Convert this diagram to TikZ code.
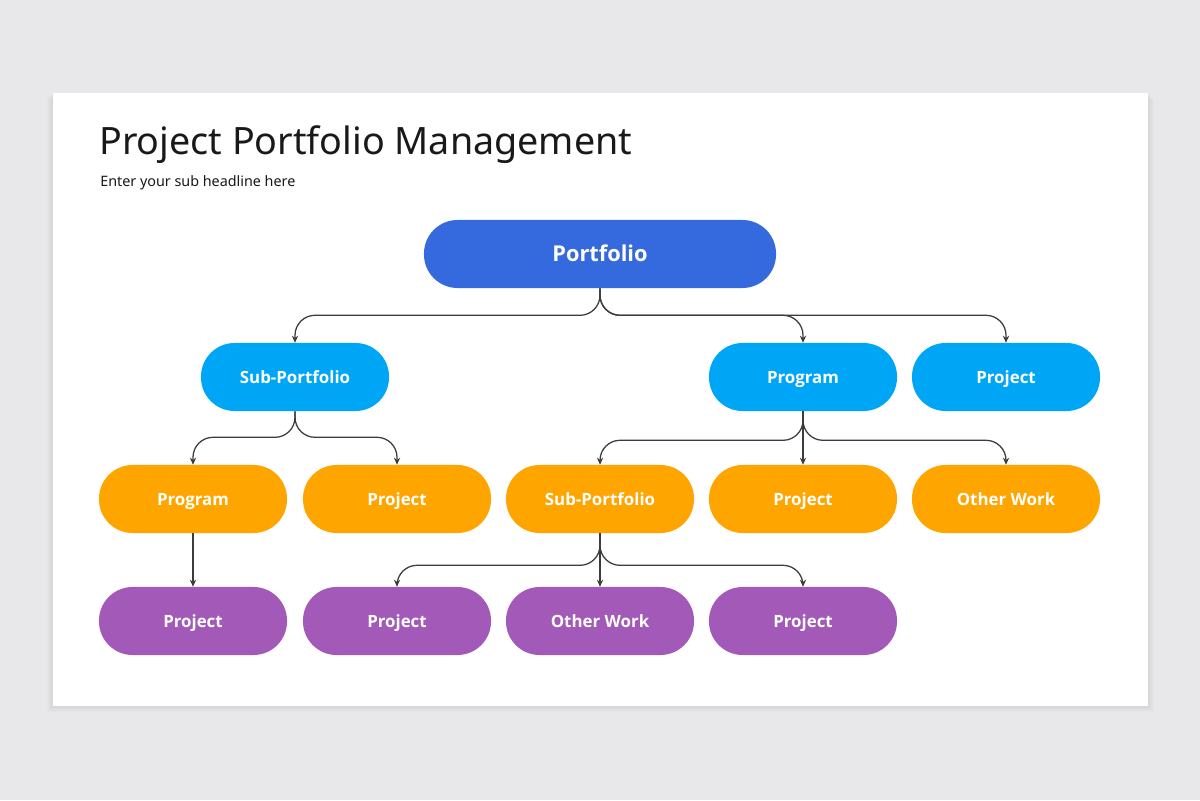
\documentclass[tikz,border=0pt]{standalone}
\usepackage{fontspec}
\setmainfont{Noto Sans}
\newfontfamily\pillfont{Open Sans}
\usepackage{tikz}
\usetikzlibrary{calc,arrows.meta}
\definecolor{pagegray}{RGB}{232,231,233}
\definecolor{topblue}{RGB}{53,105,222}
\definecolor{skyblue}{RGB}{0,166,246}
\definecolor{myorange}{RGB}{255,165,0}
\definecolor{mypurple}{RGB}{162,89,184}
\definecolor{linegray}{RGB}{60,60,60}
\definecolor{titleblack}{RGB}{25,25,25}

\tikzset{
  pill/.style={rounded corners=0.84cm, minimum width=4.7cm, minimum height=1.7cm,
    text=white, font=\pillfont\bfseries\fontsize{12}{14}\selectfont, inner sep=0pt,
    text height=8.8pt, text depth=0pt},
  lvone/.style={pill, fill=topblue, minimum width=8.8cm,
    font=\pillfont\bfseries\fontsize{15.5}{18}\selectfont, text height=11.2pt},
  lvtwo/.style={pill, fill=skyblue},
  lvthree/.style={pill, fill=myorange},
  lvfour/.style={pill, fill=mypurple},
  conn/.style={draw=linegray, line width=0.9pt, rounded corners=0.5cm, -{Stealth[length=5pt,width=4.5pt]}}
}

\begin{document}
\begin{tikzpicture}[x=0.025cm,y=-0.025cm]

% slide
\useasboundingbox (0,0) rectangle (1200,800);
\fill[pagegray] (0,0) rectangle (1200,800);
\foreach \s in {1,...,6}{
  \fill[black,opacity=0.012] (53-\s,93+\s) rectangle (1148+\s,706+\s);
}
\fill[white] (53,93) rectangle (1148,706);

% headline
\node[anchor=base west, text=titleblack, inner sep=0pt, font=\fontsize{26.8}{32}\selectfont] (title) at (99,155) {Project Portfolio Management};
\node[anchor=base west, text=titleblack, inner sep=0pt, font=\fontsize{10.2}{12}\selectfont] (subtitle) at (100,187) {Enter your sub headline here};

% level 1
\node[lvone] (port) at (600,254) {Portfolio};

% level 2
\node[lvtwo] (subA) at (295,377) {Sub-Portfolio};
\node[lvtwo] (progA) at (803,377) {Program};
\node[lvtwo] (projA) at (1006,377) {Project};

% level 3
\node[lvthree] (progB) at (193,499) {Program};
\node[lvthree] (projB) at (397,499) {Project};
\node[lvthree] (subB) at (600,499) {Sub-Portfolio};
\node[lvthree] (projC) at (803,499) {Project};
\node[lvthree] (otherB) at (1006,499) {Other Work};

% level 4
\node[lvfour] (projD) at (193,621) {Project};
\node[lvfour] (projE) at (397,621) {Project};
\node[lvfour] (otherE) at (600,621) {Other Work};
\node[lvfour] (projF) at (803,621) {Project};

% connectors
\foreach \n in {subA,progA,projA}{
  \draw[conn] (port.south) -- ++(0,27) -| (\n.north);
}
\foreach \n in {progB,projB}{
  \draw[conn] (subA.south) -- ++(0,26) -| (\n.north);
}
\foreach \n in {subB,projC,otherB}{
  \draw[conn] (progA.south) -- ++(0,29) -| (\n.north);
}
\foreach \n in {projE,otherE,projF}{
  \draw[conn] (subB.south) -- ++(0,32) -| (\n.north);
}
\draw[conn] (progB.south) -- (projD.north);

\end{tikzpicture}
\end{document}
